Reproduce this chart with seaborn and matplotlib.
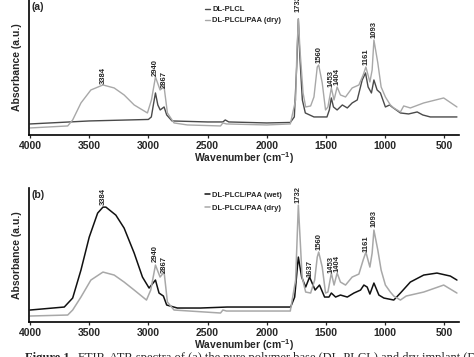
import pandas as pd
import seaborn as sns
import matplotlib.pyplot as plt

# ---- panel (a): pure polymer base vs dry implant ----
wn_plcl_a = [4000, 3500, 3000, 2975, 2955, 2940, 2920, 2900, 2867, 2845, 2800, 2500,
             2370, 2350, 2320, 2000, 1800, 1766, 1746, 1732, 1720, 1698, 1673, 1600,
             1490, 1470, 1453, 1435, 1404, 1360, 1318, 1277, 1234, 1192, 1164, 1142,
             1114, 1093, 1066, 1038, 996, 960, 940, 869, 800, 727, 680, 616, 391]
ab_plcl_a = [11, 14, 15.5, 18, 32, 42, 30, 25, 28, 20, 14, 13,
             13, 15, 13, 12, 12.5, 18, 68, 116, 80, 35, 22, 18,
             18, 25, 37, 28, 25, 30, 27, 32, 35, 55, 62, 48,
             42, 55, 45, 42, 28, 30, 28, 22, 21, 23, 20, 18, 18]

wn_dry_a = [4000, 3682, 3640, 3570, 3486, 3384, 3289, 3205, 3120, 3008, 2974, 2940,
            2901, 2867, 2839, 2783, 2670, 2390, 2370, 2340, 2000, 1800, 1755, 1745,
            1732, 1718, 1692, 1670, 1628, 1600, 1572, 1560, 1530, 1502, 1482, 1453,
            1430, 1404, 1376, 1333, 1277, 1220, 1184, 1161, 1127, 1108, 1093, 1060,
            1032, 996, 954, 925, 869, 841, 785, 672, 503, 391]
ab_dry_a = [7, 9, 15, 32, 45, 50, 47, 40, 30, 22, 35, 58,
            45, 48, 22, 12, 10, 9, 12, 11, 10, 11, 35, 80,
            116, 85, 42, 28, 29, 38, 68, 70, 52, 25, 28, 47,
            35, 48, 40, 38, 47, 50, 60, 68, 53, 65, 95, 72,
            48, 38, 30, 27, 23, 29, 27, 32, 37, 28]

# ---- panel (b): wet vs dry implant ----
wn_wet_b = [4000, 3711, 3640, 3570, 3500, 3429, 3384, 3359, 3275, 3205, 3120, 3050,
            2994, 2940, 2910, 2873, 2845, 2755, 2558, 2333, 2000, 1797, 1763, 1740,
            1732, 1704, 1670, 1637, 1590, 1553, 1510, 1473, 1453, 1417, 1376, 1318,
            1262, 1206, 1178, 1150, 1127, 1093, 1051, 1009, 925, 869, 785, 672,
            560, 447, 391]
ab_wet_b = [12, 15, 24, 52, 85, 109, 115, 115, 107, 94, 69, 45,
            34, 42, 29, 26, 17, 14, 14, 15, 15, 15, 25, 55,
            65, 45, 35, 45, 32, 37, 25, 25, 29, 25, 27, 25,
            29, 32, 37, 35, 28, 39, 27, 24, 22, 29, 40, 47,
            49, 46, 42]

wn_dry_b = [4000, 3682, 3640, 3570, 3486, 3384, 3289, 3205, 3120, 3016, 2980, 2940,
            2901, 2867, 2839, 2783, 2390, 2370, 2340, 2000, 1800, 1755, 1732, 1700,
            1670, 1628, 1594, 1572, 1560, 1530, 1502, 1482, 1453, 1430, 1404, 1376,
            1333, 1277, 1220, 1184, 1161, 1127, 1108, 1093, 1060, 1032, 996, 954,
            925, 869, 820, 672, 503, 391]
ab_dry_b = [6, 7, 12, 25, 42, 50, 47, 40, 32, 22, 32, 57,
            45, 50, 20, 12, 9, 12, 11, 11, 11, 42, 117, 45,
            30, 29, 42, 65, 70, 55, 29, 30, 49, 37, 49, 40,
            37, 45, 48, 62, 70, 55, 69, 92, 72, 52, 37, 30,
            26, 22, 26, 30, 37, 29]

# peak labels: (wavenumber, height of label base)
peaks_a = [(3384, 51), (2940, 59), (2867, 47), (1732, 123), (1560, 72),
           (1453, 48), (1404, 50), (1161, 70), (1093, 97)]
peaks_b = [(3384, 117), (2940, 60), (2867, 49), (1732, 119), (1637, 45),
           (1560, 72), (1453, 49), (1404, 50), (1161, 70), (1093, 95)]

caption_head = 'Figure 1.'
caption_body = ('FTIR-ATR spectra of (a) the pure polymer base (DL-PLCL) '
                'and dry implant (DL-PLCL/PAA)')

sns.set_style("ticks")
plt.rcParams['font.family'] = ['Liberation Sans', 'DejaVu Sans']
plt.rcParams['font.weight'] = 'bold'
plt.rcParams['mathtext.fontset'] = 'custom'
plt.rcParams['mathtext.bf'] = 'Liberation Sans:bold'
plt.rcParams['mathtext.rm'] = 'Liberation Sans:bold'
plt.rcParams['mathtext.default'] = 'bf'

fig = plt.figure(figsize=(4.74, 3.57), dpi=100)
ax_a = fig.add_axes([0.061, 0.622, 0.907, 0.378])
ax_b = fig.add_axes([0.061, 0.098, 0.907, 0.375])


def make_df(pairs):
    frames = []
    for name, wn, ab in pairs:
        frames.append(pd.DataFrame({'wavenumber': wn, 'absorbance': ab, 'sample': name}))
    return pd.concat(frames, ignore_index=True)


df_a = make_df([('DL-PLCL', wn_plcl_a, ab_plcl_a),
                ('DL-PLCL/PAA (dry)', wn_dry_a, ab_dry_a)])
df_b = make_df([('DL-PLCL/PAA (wet)', wn_wet_b, ab_wet_b),
                ('DL-PLCL/PAA (dry)', wn_dry_b, ab_dry_b)])

colors_a = {'DL-PLCL': '#4a4a4a', 'DL-PLCL/PAA (dry)': '#a8a8a8'}
colors_b = {'DL-PLCL/PAA (wet)': '#111111', 'DL-PLCL/PAA (dry)': '#a8a8a8'}

sns.lineplot(data=df_a, x='wavenumber', y='absorbance', hue='sample', palette=colors_a,
             sort=False, estimator=None, linewidth=1.0, ax=ax_a)
sns.lineplot(data=df_b, x='wavenumber', y='absorbance', hue='sample', palette=colors_b,
             sort=False, estimator=None, linewidth=1.1, ax=ax_b)

for ax, peaks, ymax, tag, leg_y, spacing in [(ax_a, peaks_a, 135, '(a)', 0.955, 0.45),
                                             (ax_b, peaks_b, 134, '(b)', 0.975, 0.75)]:
    ax.set_xlim(4010, 375)
    ax.set_ylim(0, ymax)
    ax.set_xticks([4000, 3500, 3000, 2500, 2000, 1500, 1000, 500])
    ax.tick_params(axis='x', direction='out', length=2.5, width=0.9, pad=1.5, labelsize=7.5)
    ax.tick_params(axis='y', left=False, labelleft=False)
    for s in ['top', 'right']:
        ax.spines[s].set_visible(False)
    for s in ['left', 'bottom']:
        ax.spines[s].set_linewidth(1.2)
        ax.spines[s].set_color('black')
    ax.set_xlabel('Wavenumber (cm$^{-1}$)', fontsize=7.5, fontweight='bold', labelpad=0)
    ax.set_ylabel('Absorbance (a.u.)', fontsize=7.5, fontweight='bold', labelpad=5)
    ax.text(0.006, 0.985, tag, transform=ax.transAxes, fontsize=7.5, fontweight='bold',
            ha='left', va='top')
    for wn, h in peaks:
        ax.text(wn, h, str(wn), rotation=90, ha='center', va='bottom', fontsize=5.5,
                fontweight='bold')
    ax.legend(loc='upper left', bbox_to_anchor=(0.41, leg_y), frameon=False,
              fontsize=5.5, handlelength=0.6, handletextpad=0.3, borderpad=0,
              borderaxespad=0, labelspacing=spacing, title=None)

fig.text(73 / 474, -0.011, caption_head, family='Liberation Serif', fontweight='bold',
         fontsize=9, ha='right', va='baseline')
fig.text(78 / 474, -0.011, caption_body, family='Liberation Serif', fontweight='normal',
         fontsize=9, ha='left', va='baseline')

fig.savefig('out.png', dpi=100)
